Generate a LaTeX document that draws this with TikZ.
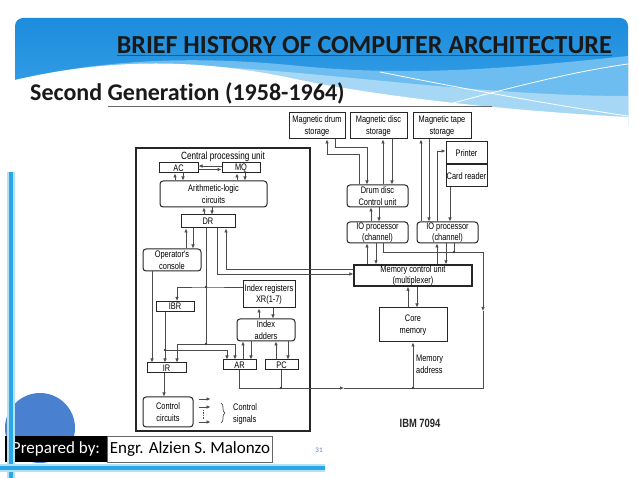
\documentclass[tikz,border=0pt]{standalone}
\usepackage{fontspec}
\setmainfont[Ligatures=NoCommon]{Carlito}
\newfontfamily\narrow[FakeStretch=0.78]{Liberation Sans}
\usetikzlibrary{arrows.meta,calc,decorations.pathreplacing}
\definecolor{hdrTop}{HTML}{1C8CDC}
\definecolor{hdrBot}{HTML}{3FA6EA}
\definecolor{waveA}{HTML}{6DBDF0}
\definecolor{waveB}{HTML}{A6D8F6}
\definecolor{glow}{HTML}{2AA8E6}
\definecolor{circ}{HTML}{4A80D0}
\definecolor{pgnum}{HTML}{5A7FA8}
\tikzset{
  box/.style={draw=black!85, line width=1pt, fill=white, inner sep=0pt, align=center,
    font=\narrow\fontsize{9.5}{11.5}\selectfont, text=black},
  rbox/.style={box, rounded corners=3pt},
  conn/.style={draw=black!70, line width=0.7pt},
  arr/.style={conn, -{Latex[length=4pt,width=3.6pt]}},
  dot/.style={fill=black!75},
  lbl/.style={font=\narrow\fontsize{9.5}{12}\selectfont, text=black, align=left, inner sep=0pt}
}
\begin{document}
\begin{tikzpicture}[x=1pt,y=-1pt]
\useasboundingbox (0,0) rectangle (638,478);
\fill[white] (0,0) rectangle (638,478);
% header band
\shade[top color=hdrTop, bottom color=hdrBot, rounded corners=8pt] (15,125) -- (15,18) -- (628,18) -- (628,125) -- cycle;
\fill[waveA] (15,80) .. controls (110,58) and (200,56) .. (300,66) .. controls (420,78) and (530,66) .. (628,56) -- (628,125) -- (15,125) -- cycle;
\fill[waveB] (200,66) .. controls (330,72) and (480,96) .. (628,96) -- (628,125) -- (200,125) -- cycle;
\fill[white] (15,80) .. controls (110,58) and (200,58) .. (300,80) .. controls (400,100) and (530,112) .. (628,117) -- (628,130) -- (15,130) -- cycle;
\draw[white, line width=0.8pt] (380,72) .. controls (480,92) and (560,106) .. (628,116);
\draw[white, line width=0.8pt] (420,112) .. controls (500,90) and (570,72) .. (628,64);
% titles
\node[anchor=base east, font=\fontsize{26}{28}\selectfont\bfseries, text=black!90, inner sep=0pt] (title) at (612,54) {BRIEF HISTORY OF COMPUTER ARCHITECTURE};
\draw[black!70, line width=0.6pt] (title.south west) ++(0,1) -- ([yshift=-1pt]title.south east);
\node[anchor=base west, font=\fontsize{24}{28}\selectfont\bfseries, text=black!90, inner sep=0pt] (sub) at (30,101) {Second Generation (1958-1964)};
\draw[black!60, line width=0.6pt] (108,106.5) -- (492,106.5);
% diagram
\node[draw=black!85, line width=1.2pt, minimum width=174, minimum height=283, inner sep=0pt] (cpu) at (223,289.5) {};
\node[lbl, font=\narrow\fontsize{10.5}{12}\selectfont] (cputitle) at (223,157) {Central processing unit};
\node[box, minimum width=56, minimum height=26] (drum) at (317,126) {Magnetic drum\\storage};
\node[box, minimum width=57, minimum height=26] (disc) at (378.5,126) {Magnetic disc\\storage};
\node[box, minimum width=58, minimum height=26] (tape) at (442,126) {Magnetic tape\\storage};
\node[box, minimum width=41, minimum height=22] (printer) at (466.5,153) {Printer};
\node[box, minimum width=41, minimum height=22] (cardr) at (466.5,176) {Card reader};
\node[rbox, minimum width=61, minimum height=22] (drumdisc) at (377.5,196) {Drum disc\\Control unit};
\node[rbox, minimum width=61, minimum height=21] (io1) at (377.5,232.5) {IO processor\\(channel)};
\node[rbox, minimum width=61, minimum height=21] (io2) at (447.5,232.5) {IO processor\\(channel)};
\node[box, line width=1.3pt, minimum width=118, minimum height=21] (mcu) at (413,275.5) {Memory control unit\\(multiplexer)};
\node[box, minimum width=68, minimum height=34] (core) at (413,325) {Core\\memory};
\node[box, minimum width=39, minimum height=10] (ac) at (178.5,168) {AC};
\node[box, minimum width=38, minimum height=10] (mq) at (241,168) {MQ};
\node[rbox, minimum width=107, minimum height=26] (alc) at (213.5,194) {Arithmetic-logic\\circuits};
\node[box, minimum width=54, minimum height=13] (dr) at (208,221.5) {DR};
\node[rbox, minimum width=58, minimum height=22] (opc) at (172,260) {Operator's\\console};
\node[box, minimum width=52, minimum height=27] (xr) at (269,294.5) {Index registers\\XR(1-7)};
\node[box, minimum width=38, minimum height=10] (ibr) at (175,306.5) {IBR};
\node[rbox, minimum width=58, minimum height=22] (adders) at (266,330) {Index\\adders};
\node[box, minimum width=39, minimum height=10] (ir) at (166.5,368) {IR};
\node[box, minimum width=33, minimum height=10] (ar) at (239.5,365) {AR};
\node[box, minimum width=33, minimum height=10] (pc) at (281.5,365) {PC};
\node[rbox, minimum width=50, minimum height=30] (cc) at (168,412) {Control\\circuits};
\node[lbl, anchor=west] (csig) at (233,414) {Control\\signals};
\node[lbl, anchor=west] (maddr) at (416,364) {Memory\\address};
\node[lbl, font=\narrow\fontsize{12}{13}\selectfont\bfseries, text=black!85] (ibm) at (420,423) {IBM 7094};
% junction coordinates
\coordinate (j1) at (206,287);
\coordinate (j2) at (206,344);
\coordinate (j3) at (165,350);
\coordinate (b1) at (483,388);
\coordinate (b2) at (483,252);
\coordinate (bm) at (344,388);
\coordinate (bv) at (483,311);
\coordinate (jpc) at (281,388);
\coordinate (jio) at (454,252);
\coordinate (jma) at (core.south |- b1);
% CPU connectors
\draw[arr] (alc.north -| 175,0) -- (ac.south -| 175,0);
\draw[arr] (ac.south -| 183,0) -- (alc.north -| 183,0);
\draw[arr] (alc.north -| 237,0) -- (mq.south -| 237,0);
\draw[arr] (mq.south -| 245,0) -- (alc.north -| 245,0);
\draw[arr] (mq.west |- 0,166) -- (ac.east |- 0,166);
\draw[arr] (ac.east |- 0,169.5) -- (mq.west |- 0,169.5);
\draw[arr] (dr.north -| 204,0) -- (alc.south -| 204,0);
\draw[arr] (alc.south -| 212,0) -- (dr.north -| 212,0);
\draw[arr] (opc.north -| 186,0) -- (dr.south -| 186,0);
\draw[arr] (dr.south -| 193,0) -- (opc.north -| 193,0);
\draw[conn] (dr.south -| j2) -- (j2);
\draw[arr] (xr.west |- j1) -- (j1) -| (ibr.north -| 177,0);
\draw[arr] (j2) -| (ir.north -| 177,0);
\draw[arr] (j2) -| (ar.north -| 235,0);
\draw[arr] (opc.south -| 152,0) -- (ir.north -| 152,0);
\draw[arr] (ibr.south -| j3) -- (ir.north -| j3);
\draw[arr] (j3) -| (ar.north -| 227,0);
\draw[arr] (dr.south -| 217,0) |- (mcu.west |- 0,274);
\draw[arr] (mcu.west |- 0,269) -| (dr.south -| 226,0);
\draw[arr] (adders.north -| 259,0) -- (xr.south -| 259,0);
\draw[arr] (xr.south -| 273,0) -- (adders.north -| 273,0);
\draw[arr] (ar.north -| 243,0) -- (adders.south -| 243,0);
\draw[arr] (adders.south -| 251,0) -- (ar.north -| 251,0);
\draw[arr] (pc.north -| 276,0) -- (adders.south -| 276,0);
\draw[arr] (adders.south -| 288,0) -- (pc.north -| 288,0);
\draw[arr] (ir.south -| 164,0) -- (cc.north -| 164,0);
\draw[arr] ($(cc.east)+(5,-13)$) -- ++(12,0);
\draw[arr] ($(cc.east)+(5,-5)$) -- ++(12,0);
\draw[arr] ($(cc.east)+(5,10)$) -- ++(12,0);
\draw[conn, densely dotted] ($(cc.east)+(10,-2)$) -- ($(cc.east)+(10,7)$);
\draw[conn, decorate, decoration={brace, amplitude=4pt}] ($(csig.west)+(-12,-11)$) -- ($(csig.west)+(-12,9)$);
% bus
\draw[arr] (ar.south -| 239,0) |- (bm);
\draw[conn] (bm) -- (b1) -- (bv);
\draw[arr] (b2) -- (bv);
\draw[conn] (b2) -| (io1.south -| 383,0);
\draw[conn] (pc.south -| jpc) -- (jpc);
\draw[conn] (io2.south -| jio) -- (jio);
\draw[arr] (jma) -- (core.south);
\fill[dot] (j1) circle (1.4) (j2) circle (1.4) (j3) circle (1.4) (jpc) circle (1.4) (jio) circle (1.4) (jma) circle (1.4);
% memory side connectors
\draw[arr] (mcu.north -| 367,0) -- (io1.south -| 367,0);
\draw[arr] (io1.south -| 376,0) -- (mcu.north -| 376,0);
\draw[arr] (mcu.north -| 437,0) -- (io2.south -| 437,0);
\draw[arr] (io2.south -| 446,0) -- (mcu.north -| 446,0);
\draw[arr] (core.north -| 408,0) -- (mcu.south -| 408,0);
\draw[arr] (mcu.south -| 417,0) -- (core.north -| 417,0);
\draw[arr] (io1.north -| 371,0) -- (drumdisc.south -| 371,0);
\draw[arr] (drumdisc.south -| 379,0) -- (io1.north -| 379,0);
\draw[arr] (drumdisc.north -| 383,0) -- (disc.south -| 383,0);
\draw[arr] (disc.south -| 392,0) -- (drumdisc.north -| 392,0);
\draw[arr] (drumdisc.north -| 359,0) -- (359,154) -| (drum.south -| 327,0);
\draw[arr] (drum.south -| 335,0) -- (335,147) -| (drumdisc.north -| 367,0);
\draw[arr] (io2.north -| 421,0) -- (tape.south -| 421,0);
\draw[arr] (tape.south -| 429,0) -- (io2.north -| 429,0);
\draw[arr] (io2.north -| 437,0) |- (printer.west |- 0,151);
\draw[arr] (cardr.south -| 450,0) -- (io2.north -| 450,0);
% footer
\fill[circ] (40,428) circle (35);
\node[fill=black, text=white, font=\fontsize{17}{20}\selectfont, minimum width=102, minimum height=26, inner sep=0pt] (prep) at (56,449) {Prepared by:};
\node[draw=black!60, line width=0.6pt, fill=white, text=black, font=\fontsize{17}{20}\selectfont, minimum width=165, minimum height=26, inner sep=0pt, anchor=west] (name) at (prep.east) {Engr. Alzien S. Malonzo};
\node[font=\fontsize{7}{8}\selectfont, text=pgnum] (pg) at (319,450) {31};
\draw[glow!35, line width=8pt] (11,172) -- (11,478);
\draw[glow, line width=3.5pt] (11,172) -- (11,478);
\draw[glow!35, line width=8pt] (0,468) -- (325,468);
\draw[glow, line width=3.5pt] (0,468) -- (325,468);
\end{tikzpicture}
\end{document}
